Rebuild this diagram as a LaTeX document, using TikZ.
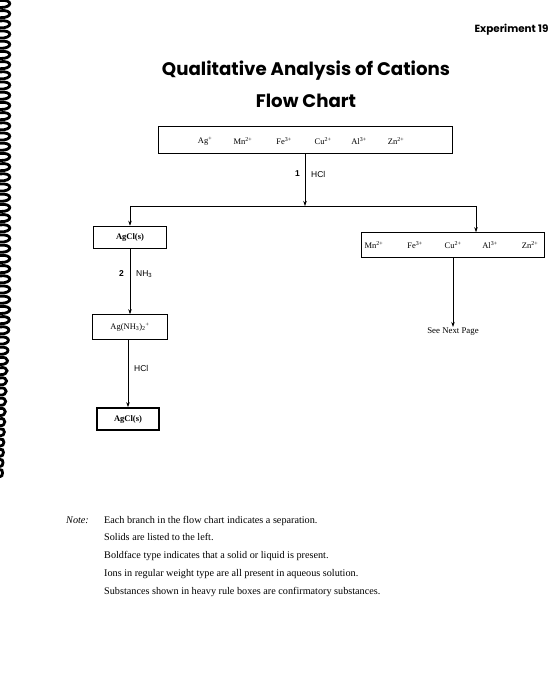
\documentclass[tikz,border=0pt]{standalone}
\usepackage{fontspec}
\setmainfont{Liberation Serif}
\newfontfamily\titlefont{Poppins}
\newfontfamily\hv{Liberation Sans}
\usetikzlibrary{arrows.meta}
\begin{document}
\begin{tikzpicture}[x=1pt,y=-1pt,
 box/.style={draw, line width=0.6pt, inner sep=0pt},
 heavy/.style={draw, line width=1.7pt, inner sep=0pt},
 ion/.style={font=\fontsize{8.5}{9}\selectfont, inner sep=0pt},
 sol/.style={font=\bfseries\fontsize{8.5}{9}\selectfont},
 arr/.style={-{Stealth[length=5pt,width=3.5pt]}, line width=0.6pt},
 lbl/.style={font=\hv\fontsize{8.5}{9}\selectfont, inner sep=0pt, anchor=west},
 num/.style={font=\hv\bfseries\fontsize{8.5}{9}\selectfont, inner sep=0pt, anchor=east},
 note/.style={font=\fontsize{10.2}{11}\selectfont, inner sep=0pt, anchor=base west},
 ring/.style={line width=2.8pt, line cap=round}]
\useasboundingbox[fill=white] (0,0) rectangle (559,700);
% spiral binding
\foreach \i in {0,...,46}{
  \pgfmathsetmacro{\yy}{4+10.2*\i}
  \pgfmathsetmacro{\ww}{\i<30 ? 13 : 13-0.6*(\i-30)}
  \draw[ring] (0,\yy-3.5) .. controls (\ww,\yy-5) and (\ww,\yy+4) .. (0,\yy+3.5);
}
% headings
\node[anchor=east, font=\titlefont\bfseries\fontsize{10.4}{11}\selectfont] (exp) at (552,30) {Experiment 19};
\node[font=\titlefont\bfseries\fontsize{18.2}{20}\selectfont] (t1) at (306,71) {Qualitative Analysis of Cations};
\node[font=\titlefont\bfseries\fontsize{18.2}{20}\selectfont] (t2) at (306,101) {Flow Chart};
% top box
\node[box, minimum width=294pt, minimum height=27pt] (top) at (305,140) {};
\node[ion] (ag) at (205,141) {Ag\textsuperscript{+}};
\node[ion] (mn) at (243,141) {Mn\textsuperscript{2+}};
\node[ion] (fe) at (284,141) {Fe\textsuperscript{3+}};
\node[ion] (cu) at (323,141) {Cu\textsuperscript{2+}};
\node[ion] (al) at (359,141) {Al\textsuperscript{3+}};
\node[ion] (zn) at (396,141) {Zn\textsuperscript{2+}};
\coordinate (j) at (305,206);
\coordinate (lc) at (130,206);
\coordinate (rc) at (476,206);
\node[num] (n1) at (300,174) {1};
\node[lbl] (h1) at (311,174) {HCl};
% left branch
\node[box, sol, minimum width=73pt, minimum height=22pt] (agcl) at (130,237) {AgCl(s)};
\node[num] (n2) at (124,274) {2};
\node[lbl] (nh) at (136,274) {NH\textsubscript{3}};
\node[box, ion, minimum width=75pt, minimum height=25pt] (agnh) at (130,327) {Ag(NH\textsubscript{3})\textsubscript{2}\textsuperscript{+}};
\node[lbl] (h2) at (134,368) {HCl};
\node[heavy, sol, minimum width=62pt, minimum height=22pt] (agcl2) at (128,419) {AgCl(s)};
% right branch
\node[box, minimum width=183pt, minimum height=25pt] (rest) at (453,245) {};
\node[ion] (mn2) at (374,245) {Mn\textsuperscript{2+}};
\node[ion] (fe2) at (415,245) {Fe\textsuperscript{3+}};
\node[ion] (cu2) at (453,245) {Cu\textsuperscript{2+}};
\node[ion] (al2) at (490,245) {Al\textsuperscript{3+}};
\node[ion] (zn2) at (530,245) {Zn\textsuperscript{2+}};
\node[font=\fontsize{8.8}{9}\selectfont, inner sep=1pt] (snp) at (453,332) {See Next Page};
% connectors
\draw[arr] (top.south -| j) -- (j);
\draw[line width=0.6pt] (lc) -- (rc);
\draw[arr] (lc) -- (agcl.north);
\draw[arr] (agcl.south) -- (agnh.north);
\draw[arr] (agcl2.north |- agnh.south) -- (agcl2.north);
\draw[arr] (rc) -- (rc |- rest.north);
\draw[arr] (snp.north |- rest.south) -- (snp.north);
% note
\node[note, font=\itshape\fontsize{10.2}{11}\selectfont] (nt) at (66,523) {Note:};
\node[note] (l1) at (104,523) {Each branch in the flow chart indicates a separation.};
\node[note] (l2) at (104,540) {Solids are listed to the left.};
\node[note] (l3) at (104,558) {Boldface type indicates that a solid or liquid is present.};
\node[note] (l4) at (104,576) {Ions in regular weight type are all present in aqueous solution.};
\node[note] (l5) at (104,594) {Substances shown in heavy rule boxes are confirmatory substances.};
\end{tikzpicture}
\end{document}
